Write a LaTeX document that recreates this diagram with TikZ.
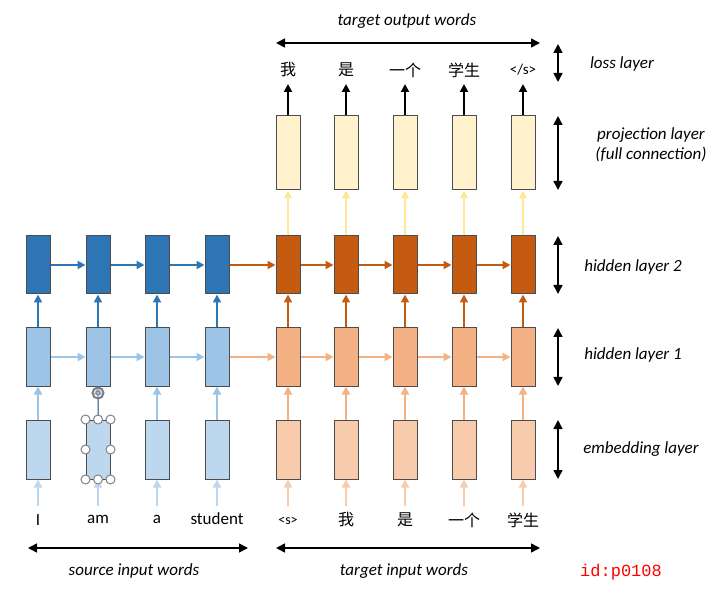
\documentclass[tikz,border=0pt]{standalone}
\usepackage{fontspec}
\setmainfont{Carlito}
\newfontfamily\cjk{Noto Sans CJK SC}
\newfontfamily\monof{Liberation Mono}
\usetikzlibrary{arrows.meta}
\definecolor{dblue}{HTML}{2E75B6}
\definecolor{mblue}{HTML}{9DC3E6}
\definecolor{lblue}{HTML}{BDD7EE}
\definecolor{dor}{HTML}{C55A11}
\definecolor{mor}{HTML}{F4B183}
\definecolor{lor}{HTML}{F8CBAD}
\definecolor{ylw}{HTML}{FFF2CC}
\definecolor{ylwa}{HTML}{FFE699}
\tikzset{
 box/.style={draw=black!70,line width=1pt,minimum width=24pt,inner sep=0pt},
 emb/.style={box,minimum height=59pt},
 hid/.style={box,minimum height=58pt},
 proj/.style={box,minimum height=74pt,fill=ylw},
 ar/.style={-{Triangle[length=8pt,width=8pt]},line width=2.8pt},
 dar/.style={{Triangle[length=9pt,width=9pt]}-{Triangle[length=9pt,width=9pt]},line width=1.6pt},
 wd/.style={font=\fontsize{17}{20}\selectfont},
 cw/.style={font=\cjk\fontsize{16}{20}\selectfont},
 lab/.style={font=\fontsize{17}{20}\selectfont\itshape},
 handle/.style={circle,draw=gray,fill=white,line width=1pt,inner sep=0pt,minimum size=9pt}
}
\begin{document}
\begin{tikzpicture}[x=1pt,y=-1pt]
\useasboundingbox (0,0) rectangle (720,593);
\foreach \i/\x in {1/38,2/98,3/157,4/217}{
 \node[emb,fill=lblue] (e\i) at (\x,449.5) {};
 \node[hid,fill=mblue] (a\i) at (\x,357) {};
 \node[hid,fill=dblue] (b\i) at (\x,265) {};
 \coordinate (w\i) at (\x,506);
}
\foreach \i/\x in {5/288,6/346,7/405,8/464,9/523}{
 \node[emb,fill=lor] (e\i) at (\x,449.5) {};
 \node[hid,fill=mor] (a\i) at (\x,357) {};
 \node[hid,fill=dor] (b\i) at (\x,265) {};
 \node[proj] (p\i) at (\x,153) {};
 \coordinate (w\i) at (\x,506);
 \coordinate (t\i) at (\x,84);
}
\node[wd] (s1) at (38,520) {I};
\node[wd] (s2) at (98,519) {am};
\node[wd] (s3) at (157,519) {a};
\node[wd] (s4) at (217,519) {student};
\node[wd,font=\fontsize{14}{16}\selectfont] (s5) at (288,521) {<s>};
\node[cw] (s6) at (346,520) {我};
\node[cw] (s7) at (405,520) {是};
\node[cw] (s8) at (464,520) {一个};
\node[cw] (s9) at (523,520) {学生};
\node[cw] (o5) at (288,70) {我};
\node[cw] (o6) at (346,70) {是};
\node[cw] (o7) at (405,70) {一个};
\node[cw] (o8) at (464,70) {学生};
\node[wd,font=\fontsize{15}{18}\selectfont] (o9) at (523,70) {</s>};
\foreach \i in {1,...,4}{
 \draw[ar,lblue] (w\i) -- (e\i.south);
 \draw[ar,mblue] (e\i.north) -- (a\i.south);
 \draw[ar,dblue] (a\i.north) -- (b\i.south);
}
\foreach \i in {5,...,9}{
 \draw[ar,lor] (w\i) -- (e\i.south);
 \draw[ar,mor] (e\i.north) -- (a\i.south);
 \draw[ar,dor] (a\i.north) -- (b\i.south);
 \draw[ar,ylwa] (b\i.north) -- (p\i.south);
 \draw[ar,black] (p\i.north) -- (t\i);
}
\foreach \i/\j in {1/2,2/3,3/4}{
 \draw[ar,mblue] (a\i) -- (a\j);
 \draw[ar,dblue] (b\i) -- (b\j);
}
\draw[ar,mor] (a4) -- (a5);
\draw[ar,dor] (b4) -- (b5);
\foreach \i/\j in {5/6,6/7,7/8,8/9}{
 \draw[ar,mor] (a\i) -- (a\j);
 \draw[ar,dor] (b\i) -- (b\j);
}
\draw[gray,line width=1pt] (e2.north) -- (98,398);
\node[circle,draw=gray,line width=2pt,minimum size=11pt,inner sep=0pt] (rot) at (98,393) {};
\node[circle,draw=gray,line width=1pt,minimum size=4pt,inner sep=0pt] at (98,393) {};
\foreach \p in {north west,north,north east,west,east,south west,south,south east}
 \node[handle] at (e2.\p) {};
\coordinate (sl) at (28,548); \coordinate (sr) at (248,548);
\coordinate (tl) at (276,548); \coordinate (tr) at (540,548);
\coordinate (ul) at (276,43); \coordinate (ur) at (540,43);
\draw[dar] (sl) -- (sr);
\draw[dar] (tl) -- (tr);
\draw[dar] (ul) -- (ur);
\node[lab] (sw) at (134,571) {source input words};
\node[lab] (tw) at (404,571) {target input words};
\node[lab] (ow) at (407,21) {target output words};
\foreach \n/\a/\b in {L/44/82,P/116/190,H/236/294,G/328/386,E/420/479}{
 \coordinate (\n1) at (558,\a); \coordinate (\n2) at (558,\b);
 \draw[dar] (\n1) -- (\n2);
}
\node[lab] (ll) at (622,64) {loss layer};
\node[lab,align=center] (pl) at (651,145) {projection layer\\(full connection)};
\node[lab] (hl2) at (633,267) {hidden layer 2};
\node[lab] (hl1) at (633,355) {hidden layer 1};
\node[lab] (el) at (641,449) {embedding layer};
\node[red,font=\monof\fontsize{17}{20}\selectfont] (id) at (621,572) {id:p0108};
\end{tikzpicture}
\end{document}
